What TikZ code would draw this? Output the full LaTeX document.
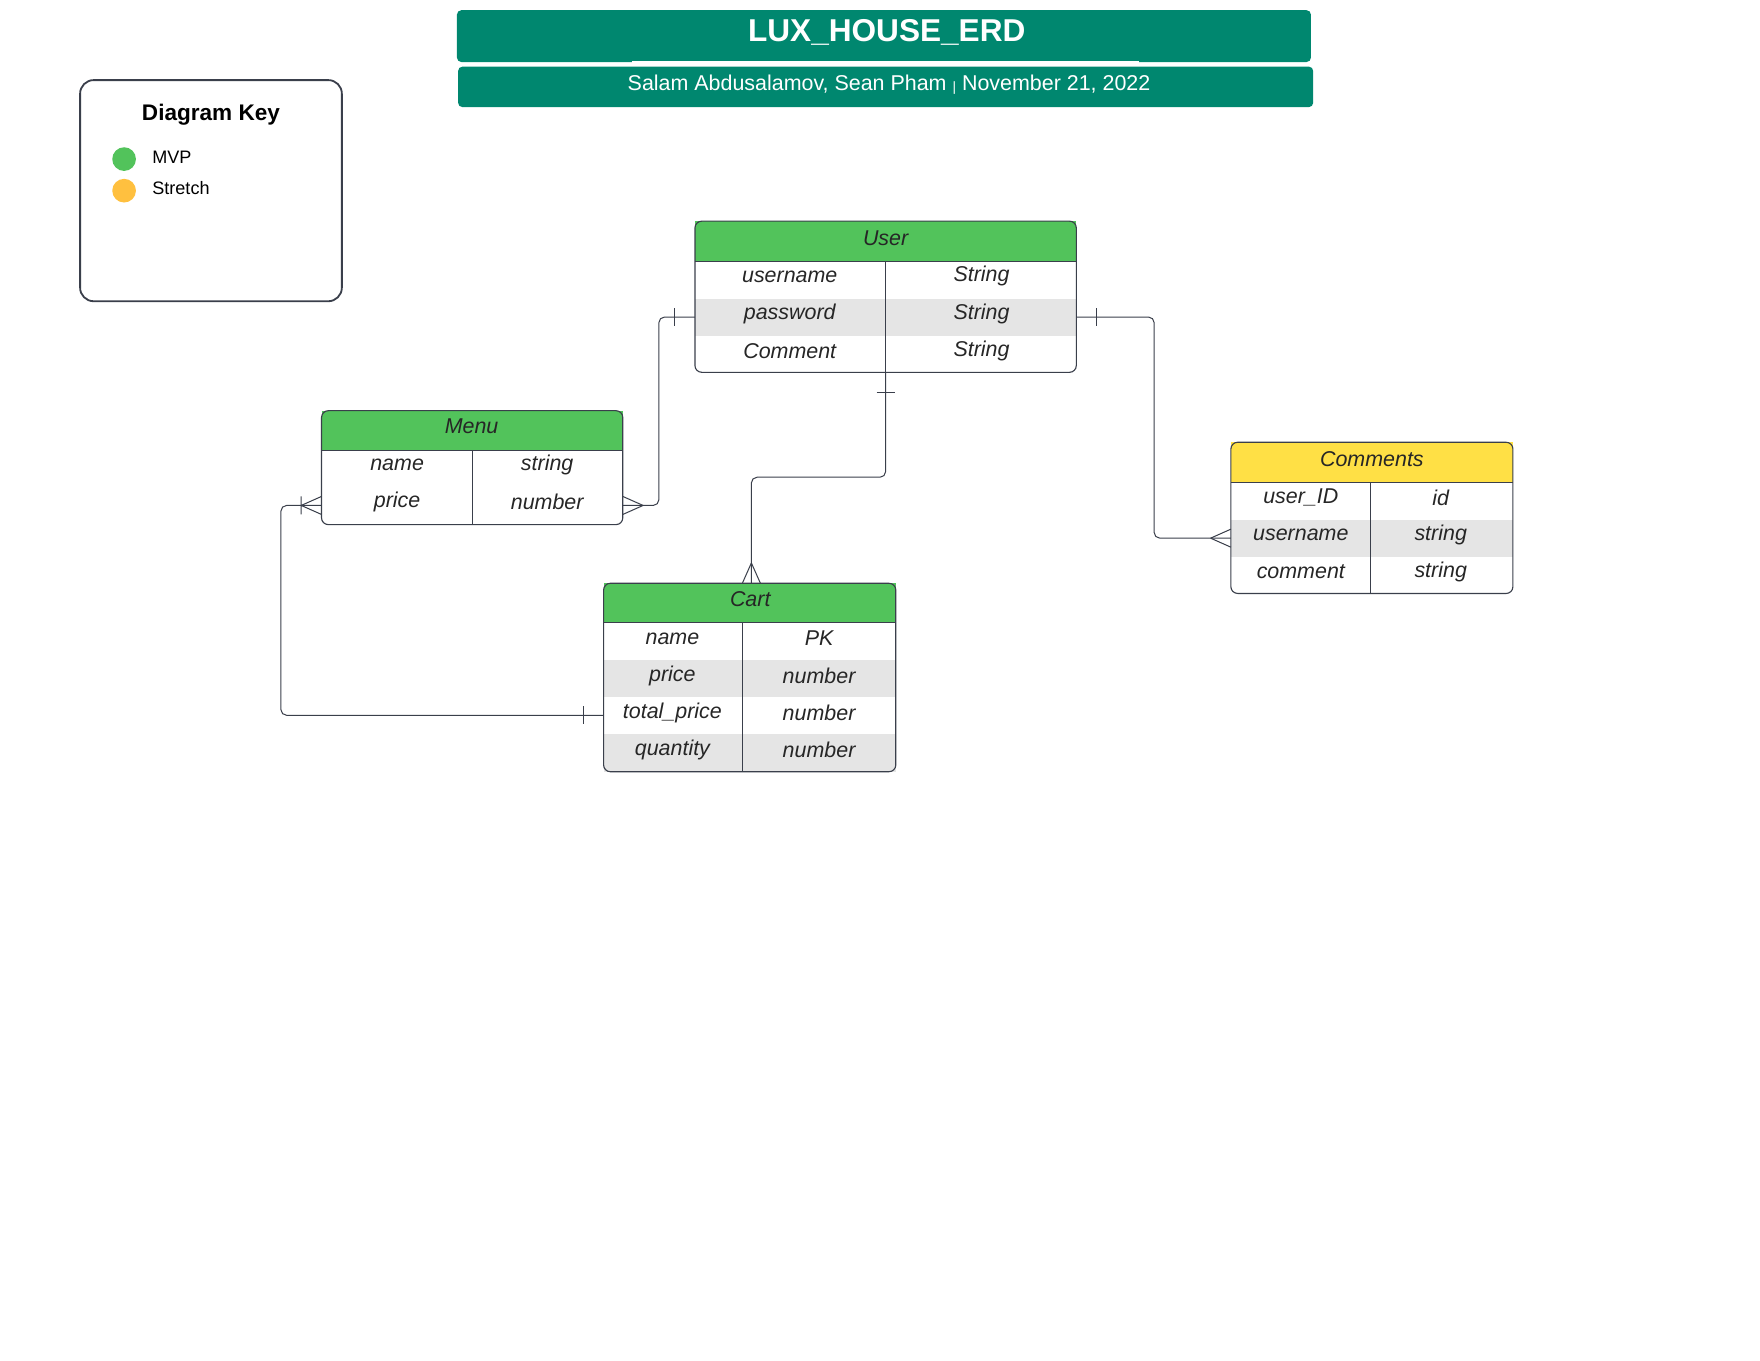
\documentclass[tikz,border=0pt]{standalone}
\usepackage{fontspec}
\setmainfont{Liberation Sans}
\definecolor{teal}{HTML}{00876F}
\definecolor{grn}{HTML}{52C35B}
\definecolor{yel}{HTML}{FFE045}
\definecolor{rowg}{HTML}{E5E5E5}
\definecolor{ln}{HTML}{3A3F4B}
\tikzset{
 cell/.style={font=\fontsize{9.5}{11}\selectfont\itshape, text=black!85},
 conn/.style={draw=ln, line width=0.45pt, rounded corners=2.5pt},
 mark1/.style={draw=ln, line width=0.45pt},
}
\newcommand{\tbl}[9]{% name x1 x2 xs ytop headercolor title rowsY(list) 
}
\begin{document}
\begin{tikzpicture}[x=0.5pt,y=-0.5pt]
\useasboundingbox (0,0) rectangle (1560,1206);
% header
\fill[teal, rounded corners=2pt] (405,9) rectangle (1162,55);
\fill[teal, rounded corners=2pt] (406,59) rectangle (1164,95);
\draw[white, line width=1pt] (560,55) -- (1010,55);
\node[text=white, font=\fontsize{14}{16}\selectfont\bfseries] (title) at (786,29) {LUX\_HOUSE\_ERD};
\node[text=white, font=\fontsize{9.5}{11}\selectfont] (sub) at (788,75) {Salam Abdusalamov, Sean Pham {\fontsize{6}{7}\selectfont\raisebox{-0.3pt}{|}} November 21, 2022};
% key
\draw[ln, line width=0.8pt, rounded corners=6pt] (71,71) rectangle (303,267);
\node[font=\fontsize{10}{12}\selectfont\bfseries] (keyt) at (187,102) {Diagram Key};
\fill[grn] (110,141) circle (10.5);
\fill[yel!60!orange!90] (110,169) circle (10.5);
\node[anchor=west, font=\fontsize{8}{10}\selectfont] (kmvp) at (128,139) {MVP};
\node[anchor=west, font=\fontsize{8}{10}\selectfont] (kstr) at (128,167) {Stretch};
% User
\fill[rowg] (616,265) rectangle (954,298);
\fill[grn] (616,196) rectangle (954,232);
\draw[ln, line width=0.45pt] (616,232) -- (954,232) (785,232) -- (785,330);
\draw[ln, line width=0.5pt, rounded corners=3pt] (616,196) rectangle (954,330);
\node[cell] (uh) at (785,211) {User};
\node[cell] at (700,245) {username}; \node[cell] at (870,245) {String};
\node[cell] at (700,278) {password}; \node[cell] at (870,278) {String};
\node[cell] at (700,311) {Comment}; \node[cell] at (870,311) {String};
% Menu
\fill[grn] (285,364) rectangle (552,399);
\draw[ln, line width=0.45pt] (285,399) -- (552,399) (419,399) -- (419,465);
\draw[ln, line width=0.5pt, rounded corners=3pt] (285,364) rectangle (552,465);
\node[cell] (mh) at (418,378) {Menu};
\node[cell] at (352,412) {name}; \node[cell] at (485,412) {string};
\node[cell] at (352,445) {price}; \node[cell] at (485,445) {number};
% Cart
\fill[rowg] (535,585) rectangle (794,618);
\fill[rowg] (535,651) rectangle (794,684);
\fill[grn] (535,517) rectangle (794,552);
\draw[ln, line width=0.45pt] (535,552) -- (794,552) (658,552) -- (658,684);
\draw[ln, line width=0.5pt, rounded corners=3pt] (535,517) rectangle (794,684);
\node[cell] (ch) at (665,531) {Cart};
\node[cell] at (596,566) {name}; \node[cell] at (726,566) {PK};
\node[cell] at (596,599) {price}; \node[cell] at (726,599) {number};
\node[cell] at (596,632) {total\_price}; \node[cell] at (726,632) {number};
\node[cell] at (596,665) {quantity}; \node[cell] at (726,665) {number};
% Comments
\fill[rowg] (1091,461) rectangle (1341,494);
\fill[yel] (1091,392) rectangle (1341,428);
\draw[ln, line width=0.45pt] (1091,428) -- (1341,428) (1215,428) -- (1215,526);
\draw[ln, line width=0.5pt, rounded corners=3pt] (1091,392) rectangle (1341,526);
\node[cell] (cmh) at (1216,407) {Comments};
\node[cell] at (1153,441) {user\_ID}; \node[cell] at (1277,441) {id};
\node[cell] at (1153,474) {username}; \node[cell] at (1277,474) {string};
\node[cell] at (1153,507) {comment}; \node[cell] at (1277,507) {string};
% connection coordinates
\coordinate (uL) at (616,281); \coordinate (mR) at (552,448);
\coordinate (uB) at (785,330); \coordinate (cT) at (666,517);
\coordinate (uR) at (954,281); \coordinate (cmL) at (1091,477);
\coordinate (cL) at (535,634); \coordinate (mL) at (285,448);
% connectors
\draw[conn] (uL) -- (584,281) -- (584,448) -- (mR);
\draw[mark1] (598,273) -- (598,289);
\draw[mark1] (570,448) -- (552,440) (570,448) -- (552,456);
\draw[conn] (uB) -- (785,423) -- (666,423) -- (cT);
\draw[mark1] (777,348) -- (793,348);
\draw[mark1] (666,499) -- (658,517) (666,499) -- (674,517);
\draw[conn] (uR) -- (1023,281) -- (1023,477) -- (cmL);
\draw[mark1] (972,273) -- (972,289);
\draw[mark1] (1073,477) -- (1091,469) (1073,477) -- (1091,485);
\draw[conn] (cL) -- (249,634) -- (249,448) -- (mL);
\draw[mark1] (517,626) -- (517,642);
\draw[mark1] (267,448) -- (285,440) (267,448) -- (285,456) (267,440) -- (267,456);
\end{tikzpicture}
\end{document}
